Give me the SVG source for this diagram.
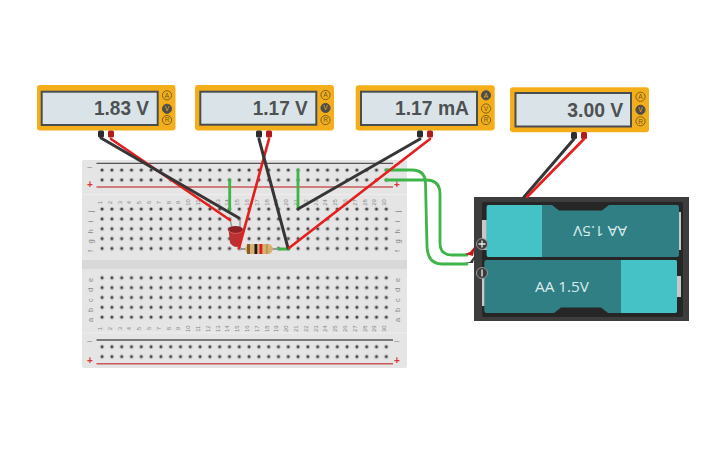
<svg xmlns="http://www.w3.org/2000/svg" xmlns:xlink="http://www.w3.org/1999/xlink" width="725" height="453" viewBox="0 0 725 453">
<style>
text{font-family:"Liberation Sans",Arial,sans-serif}
.case{fill:#f4ae1a}
.screen{fill:#dae4e8;stroke:#4a4d50;stroke-width:2}
.read{font-size:21px;font-weight:bold;fill:#4d5153;text-anchor:end}
.btn{fill:none;stroke:#6d5a22;stroke-width:.9}
.btnon{fill:#4d4d4d;stroke:#4d4d4d;stroke-width:.9}
.bl{font-size:6.5px;text-anchor:middle;fill:#6d5a22}
.blon{font-size:6.5px;text-anchor:middle;fill:#f4ae1a}
.pb{fill:#2d2d2d}.pr{fill:#b01c1c}
.wb{stroke:#363636;stroke-width:3;fill:none;stroke-linecap:round}
.wr{stroke:#e3201f;stroke-width:2.7;fill:none;stroke-linecap:round}
.wg{stroke:#3db548;stroke-width:2.8;fill:none;stroke-linecap:round}
.holes{fill:url(#hole)}
.n{font-size:6px;fill:#888;text-anchor:middle}
.r{font-size:7.5px;fill:#888;text-anchor:middle}
.lk{stroke:#555;stroke-width:1.3}
.lr{stroke:#c9595b;stroke-width:1.5}
.sg{font-size:10px;fill:#d9363a;font-weight:bold;text-anchor:middle}
.sm{font-size:10px;fill:#999;text-anchor:middle}
.aa{font-family:"Open Sans",sans-serif;font-size:15.3px;fill:#dcecec;text-anchor:middle}
.term{fill:#3c3c3c;stroke:#999;stroke-width:1}
</style>
<defs>
<pattern id="hole" patternUnits="userSpaceOnUse" width="9.8" height="9.85">
<circle cx="4.9" cy="4.9" r="2.5" fill="#d6d6d6"/>
<circle cx="4.9" cy="4.9" r="1.5" fill="#3f3f3f"/>
</pattern>
</defs>
<rect width="725" height="453" fill="#fff"/>

<g id="breadboard">
<rect x="82" y="160" width="325" height="208" rx="2" fill="#e5e5e5"/>
<rect x="82" y="260" width="325" height="9" fill="#d8d8d8"/>
<path d="M82 194.5H407M82 333H407" stroke="#eeeeee" stroke-width="1"/>
<rect class="holes" transform="translate(97.2,165.1)" width="294" height="19.7"/>
<rect class="holes" transform="translate(97.2,204.1)" width="294" height="49.25"/>
<rect class="holes" transform="translate(97.2,272.8)" width="294" height="49.25"/>
<rect class="holes" transform="translate(97.2,341.8)" width="294" height="19.7"/>
<path class="lk" d="M96.5 163.3H393M96.5 340H393"/>
<path class="lr" d="M96.5 187H393M96.5 363.7H393"/>
<text class="sm" x="90" y="170.5">−</text><text class="sg" x="90" y="188">+</text>
<text class="sm" x="397" y="167.5">−</text><text class="sg" x="397" y="188">+</text>
<text class="sm" x="90" y="345">−</text><text class="sg" x="90" y="363.5">+</text>
<text class="sm" x="397" y="345">−</text><text class="sg" x="397" y="363.5">+</text>
<g id="labels">
<text class="n" transform="translate(102,202.5) rotate(-90)">1</text><text class="n" transform="translate(111.8,202.5) rotate(-90)">2</text><text class="n" transform="translate(121.6,202.5) rotate(-90)">3</text><text class="n" transform="translate(131.4,202.5) rotate(-90)">4</text><text class="n" transform="translate(141.2,202.5) rotate(-90)">5</text><text class="n" transform="translate(151,202.5) rotate(-90)">6</text><text class="n" transform="translate(160.8,202.5) rotate(-90)">7</text><text class="n" transform="translate(170.6,202.5) rotate(-90)">8</text><text class="n" transform="translate(180.4,202.5) rotate(-90)">9</text><text class="n" transform="translate(190.2,202.5) rotate(-90)">10</text><text class="n" transform="translate(200,202.5) rotate(-90)">11</text><text class="n" transform="translate(209.8,202.5) rotate(-90)">12</text><text class="n" transform="translate(219.6,202.5) rotate(-90)">13</text><text class="n" transform="translate(229.4,202.5) rotate(-90)">14</text><text class="n" transform="translate(239.2,202.5) rotate(-90)">15</text><text class="n" transform="translate(249,202.5) rotate(-90)">16</text><text class="n" transform="translate(258.8,202.5) rotate(-90)">17</text><text class="n" transform="translate(268.6,202.5) rotate(-90)">18</text><text class="n" transform="translate(278.4,202.5) rotate(-90)">19</text><text class="n" transform="translate(288.2,202.5) rotate(-90)">20</text><text class="n" transform="translate(298,202.5) rotate(-90)">21</text><text class="n" transform="translate(307.8,202.5) rotate(-90)">22</text><text class="n" transform="translate(317.6,202.5) rotate(-90)">23</text><text class="n" transform="translate(327.4,202.5) rotate(-90)">24</text><text class="n" transform="translate(337.2,202.5) rotate(-90)">25</text><text class="n" transform="translate(347,202.5) rotate(-90)">26</text><text class="n" transform="translate(356.8,202.5) rotate(-90)">27</text><text class="n" transform="translate(366.6,202.5) rotate(-90)">28</text><text class="n" transform="translate(376.4,202.5) rotate(-90)">29</text><text class="n" transform="translate(386.2,202.5) rotate(-90)">30</text>
<text class="n" transform="translate(102,328.7) rotate(-90)">1</text><text class="n" transform="translate(111.8,328.7) rotate(-90)">2</text><text class="n" transform="translate(121.6,328.7) rotate(-90)">3</text><text class="n" transform="translate(131.4,328.7) rotate(-90)">4</text><text class="n" transform="translate(141.2,328.7) rotate(-90)">5</text><text class="n" transform="translate(151,328.7) rotate(-90)">6</text><text class="n" transform="translate(160.8,328.7) rotate(-90)">7</text><text class="n" transform="translate(170.6,328.7) rotate(-90)">8</text><text class="n" transform="translate(180.4,328.7) rotate(-90)">9</text><text class="n" transform="translate(190.2,328.7) rotate(-90)">10</text><text class="n" transform="translate(200,328.7) rotate(-90)">11</text><text class="n" transform="translate(209.8,328.7) rotate(-90)">12</text><text class="n" transform="translate(219.6,328.7) rotate(-90)">13</text><text class="n" transform="translate(229.4,328.7) rotate(-90)">14</text><text class="n" transform="translate(239.2,328.7) rotate(-90)">15</text><text class="n" transform="translate(249,328.7) rotate(-90)">16</text><text class="n" transform="translate(258.8,328.7) rotate(-90)">17</text><text class="n" transform="translate(268.6,328.7) rotate(-90)">18</text><text class="n" transform="translate(278.4,328.7) rotate(-90)">19</text><text class="n" transform="translate(288.2,328.7) rotate(-90)">20</text><text class="n" transform="translate(298,328.7) rotate(-90)">21</text><text class="n" transform="translate(307.8,328.7) rotate(-90)">22</text><text class="n" transform="translate(317.6,328.7) rotate(-90)">23</text><text class="n" transform="translate(327.4,328.7) rotate(-90)">24</text><text class="n" transform="translate(337.2,328.7) rotate(-90)">25</text><text class="n" transform="translate(347,328.7) rotate(-90)">26</text><text class="n" transform="translate(356.8,328.7) rotate(-90)">27</text><text class="n" transform="translate(366.6,328.7) rotate(-90)">28</text><text class="n" transform="translate(376.4,328.7) rotate(-90)">29</text><text class="n" transform="translate(386.2,328.7) rotate(-90)">30</text>
<text class="r" transform="translate(93,211.5) rotate(-90)">j</text><text class="r" transform="translate(93,221.5) rotate(-90)">i</text><text class="r" transform="translate(93,231.5) rotate(-90)">h</text><text class="r" transform="translate(93,241.5) rotate(-90)">g</text><text class="r" transform="translate(93,251) rotate(-90)">f</text>
<text class="r" transform="translate(400,211.5) rotate(-90)">j</text><text class="r" transform="translate(400,221.5) rotate(-90)">i</text><text class="r" transform="translate(400,231.5) rotate(-90)">h</text><text class="r" transform="translate(400,241.5) rotate(-90)">g</text><text class="r" transform="translate(400,251) rotate(-90)">f</text>
<text class="r" transform="translate(93,280) rotate(-90)">e</text><text class="r" transform="translate(93,290) rotate(-90)">d</text><text class="r" transform="translate(93,300) rotate(-90)">c</text><text class="r" transform="translate(93,310) rotate(-90)">b</text><text class="r" transform="translate(93,320) rotate(-90)">a</text>
<text class="r" transform="translate(400,280) rotate(-90)">e</text><text class="r" transform="translate(400,290) rotate(-90)">d</text><text class="r" transform="translate(400,300) rotate(-90)">c</text><text class="r" transform="translate(400,310) rotate(-90)">b</text><text class="r" transform="translate(400,320) rotate(-90)">a</text>
</g>
</g>

<g id="battery">
<rect x="474" y="197" width="215" height="124" fill="#3d3d3d"/>
<rect x="482" y="202" width="201" height="115" rx="2" fill="#262626"/>
<rect x="482" y="220" width="5" height="30" fill="#c8c8c8"/>
<rect x="678" y="212" width="3" height="38" fill="#c8c8c8"/>
<rect x="482" y="270" width="3" height="36" fill="#c8c8c8"/>
<rect x="676" y="276" width="5" height="21" fill="#c8c8c8"/>
<rect x="486.700" y="205" width="192.300" height="52" rx="2" fill="#2f7f85"/>
<path d="M542 205H488.700a2 2 0 0 0-2 2V255a2 2 0 0 0 2 2H542Z" fill="#45c2c6"/>
<path d="M552 205L559 210.500H602L609 205Z" fill="#262626"/>
<rect x="484.300" y="260" width="192.700" height="53" rx="2" fill="#2f7f85"/>
<path d="M621 260H675a2 2 0 0 1 2 2V311a2 2 0 0 1-2 2H621Z" fill="#45c2c6"/>
<path d="M554 313L561 307.500H601L608 313Z" fill="#262626"/>
<text class="aa" x="562" y="291.500">AA 1.5V</text>
<text class="aa" transform="rotate(180 600 231)" x="600" y="236.500">AA 1.5V</text>
<circle class="term" cx="482" cy="244" r="5.500"/>
<circle class="term" cx="482" cy="273" r="5.500"/>
<path d="M478.500 244H485.500M482 240.500V247.500M482 269.500V276.500" stroke="#eee" stroke-width="1.300"/>
</g>

<g id="led">
<path d="M230 219L232 228M240 219V228" stroke="#999" stroke-width="1.400"/>
<path d="M228.500 229L230 243Q235.500 250 241 245L243 229Z" fill="#bb3033"/>
<ellipse cx="235.500" cy="229.500" rx="7.500" ry="3.500" fill="#8f2226"/>
<path d="M228.500 231Q235.500 236 243 231" stroke="#d66" stroke-width=".8" fill="none"/>
</g>
<g id="resistor">
<path d="M239 249H279" stroke="#999" stroke-width="1.800"/>
<path d="M245 249Q246 244 250 244H268Q272 244 273 249Q272 254 268 254H250Q246 254 245 249Z" fill="#d8b070"/>
<rect x="247" y="244" width="3" height="10" fill="#8a5a2a"/>
<rect x="254.500" y="244" width="2.800" height="10" fill="#1c1c1c"/>
<rect x="259.500" y="244" width="2.800" height="10" fill="#e01a1a"/>
<rect x="266" y="244" width="1.800" height="10" fill="#b49a50"/>
</g>

<g id="meter1">
<rect class="case" x="37" y="85" width="138.500" height="45.500" rx="3"/>
<rect class="screen" x="41.700" y="91.700" width="116" height="33.300"/>
<text class="read" x="149" y="115" textLength="55" lengthAdjust="spacingAndGlyphs">1.83 V</text>
<circle class="btn" cx="167" cy="95.300" r="4.600"/><circle class="btnon" cx="167" cy="108.800" r="4.600"/><circle class="btn" cx="167" cy="120" r="4.600"/>
<text class="bl" x="167" y="97.600">A</text><text class="blon" x="167" y="111.100">V</text><text class="bl" x="167" y="122.300">R</text>
<rect class="pb" x="98" y="130.500" width="6" height="7" rx="1.500"/><rect class="pr" x="108" y="130.500" width="6" height="7" rx="1.500"/>
</g>
<g id="meter2">
<rect class="case" x="195" y="85" width="139" height="45.500" rx="3"/>
<rect class="screen" x="200.300" y="91.700" width="116" height="33"/>
<text class="read" x="307.700" y="115" textLength="55" lengthAdjust="spacingAndGlyphs">1.17 V</text>
<circle class="btn" cx="325.500" cy="95" r="4.600"/><circle class="btnon" cx="325.500" cy="108" r="4.600"/><circle class="btn" cx="325.500" cy="120" r="4.600"/>
<text class="bl" x="325.500" y="97.300">A</text><text class="blon" x="325.500" y="110.300">V</text><text class="bl" x="325.500" y="122.300">R</text>
<rect class="pb" x="256" y="130.500" width="6" height="7" rx="1.500"/><rect class="pr" x="266" y="130.500" width="6" height="7" rx="1.500"/>
</g>
<g id="meter3">
<rect class="case" x="355.700" y="85.300" width="139" height="45.300" rx="3"/>
<rect class="screen" x="361" y="91.700" width="116" height="33.300"/>
<text class="read" x="469" y="115" textLength="74" lengthAdjust="spacingAndGlyphs">1.17 mA</text>
<circle class="btnon" cx="486" cy="95.300" r="4.600"/><circle class="btn" cx="486" cy="108.500" r="4.600"/><circle class="btn" cx="486" cy="120" r="4.600"/>
<text class="blon" x="486" y="97.600">A</text><text class="bl" x="486" y="110.800">V</text><text class="bl" x="486" y="122.300">R</text>
<rect class="pb" x="417" y="130.500" width="6" height="7" rx="1.500"/><rect class="pr" x="427" y="130.500" width="6" height="7" rx="1.500"/>
</g>
<g id="meter4">
<rect class="case" x="510" y="87.300" width="139" height="45" rx="3"/>
<rect class="screen" x="515.500" y="93" width="115.500" height="33.500"/>
<text class="read" x="623.300" y="116.500" textLength="56" lengthAdjust="spacingAndGlyphs">3.00 V</text>
<circle class="btn" cx="640.500" cy="96.800" r="4.600"/><circle class="btnon" cx="640.500" cy="109.800" r="4.600"/><circle class="btn" cx="640.500" cy="121.300" r="4.600"/>
<text class="bl" x="640.500" y="99.100">A</text><text class="blon" x="640.500" y="112.100">V</text><text class="bl" x="640.500" y="123.600">R</text>
<rect class="pb" x="571" y="132" width="6" height="7" rx="1.500"/><rect class="pr" x="581" y="132" width="6" height="7" rx="1.500"/>
</g>

<g id="connectors">
<path class="wg" d="M229.700 180V210M298 170V209M279 249H289"/>
<path class="wg" d="M386 170H412Q425 170 425.500 183L427 247Q428 264 442 264H467"/>
<path class="wg" d="M386 180H426Q440 180 440 194V243Q440 255 452 255H467"/>
<path class="wr" d="M111 139L230 220"/>
<path class="wb" d="M101 138L239 218"/>
<path class="wr" d="M269 139L239 248"/>
<path class="wb" d="M259 139L288 248"/>
<path class="wb" d="M420 139L298 209"/>
<path class="wr" d="M430 139L289 248"/>
<path class="wb" d="M574 139L524 197"/>
<path class="wr" d="M584 139L527 197"/>
<path d="M465 254L470 252L475 246L473 256Z" fill="#c31a1a"/>
<path d="M465 263L470 262L475 255L473 263Z" fill="#333"/>
</g>
</svg>
